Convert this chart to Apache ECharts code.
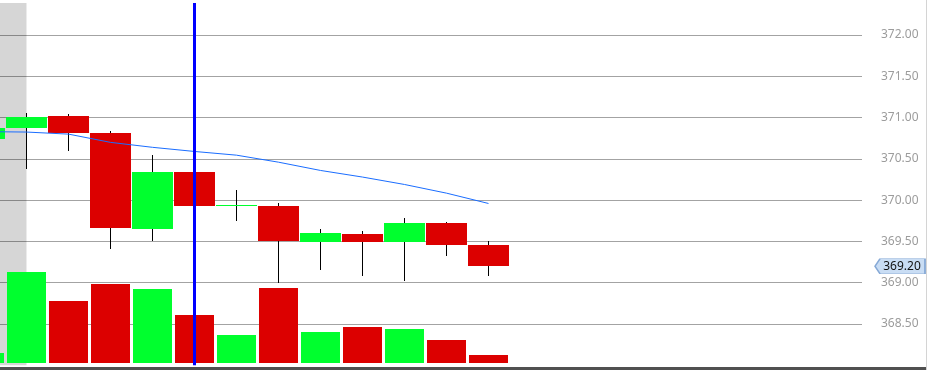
<!DOCTYPE html>
<html>
<head>
<meta charset="utf-8">
<script src="https://cdn.jsdelivr.net/npm/echarts@6/dist/echarts.min.js"></script>
<style>
html,body{margin:0;padding:0;background:#fff;}
#c{width:930px;height:370px;}
</style>
</head>
<body>
<div id="c"></div>
<script>
// ---- data (bar index 0 is the partially visible bar at the left edge) ----
const opens   = [370.74, 370.87, 371.02, 370.81, 369.65, 370.34, 369.94, 369.93, 369.495, 369.59, 369.49, 369.72, 369.455];
const closes  = [370.87, 371.005, 370.81, 369.66, 370.34, 369.93, 369.945, 369.50, 369.60, 369.49, 369.72, 369.455, 369.20];
const lows    = [370.70, 370.375, 370.59, 369.41, 369.50, 369.93, 369.75, 368.995, 369.15, 369.08, 369.02, 369.325, 369.08];
const highs   = [370.90, 371.05, 371.04, 370.835, 370.545, 370.34, 370.12, 369.965, 369.65, 369.625, 369.78, 369.73, 369.50];
const volumes = [1000, 9100, 6200, 7900, 7400, 4800, 2800, 7500, 3100, 3600, 3400, 2300, 800];
const movingAvg = [370.83, 370.825, 370.80, 370.70, 370.64, 370.59, 370.545, 370.46, 370.36, 370.28, 370.19, 370.085, 369.96];
const lastPrice = 369.20;
const markerBar = 5;      // bar with the blue vertical marker
const shadedUntil = 1;    // grey session shading ends at this bar
const priceMin = 368.0, priceMax = 372.388, priceStep = 0.5;
const volumeMax = 10000;
const xMin = 0.369, xMax = 20.893;

// ---- styles ----
const GREEN = '#00ff2e', RED = '#dc0000';

const candleData = opens.map((o, k) => [k, o, closes[k], lows[k], highs[k]]);
const volData = volumes.map((v, k) => ({
  value: [k, v],
  itemStyle: { color: closes[k] >= opens[k] ? GREEN : RED }
}));
const maData = movingAvg.map((v, k) => [k, v]);

const chart = echarts.init(document.getElementById('c'), null, { renderer: 'canvas' });

chart.setOption({
  animation: false,
  backgroundColor: '#ffffff',
  grid: [
    { left: 0, width: 862, top: 3, height: 362.3, outerBoundsMode: 'none', containLabel: false },
    { left: 0, width: 862, top: 263, height: 100, outerBoundsMode: 'none', containLabel: false }
  ],
  xAxis: [
    { type: 'value', gridIndex: 0, min: xMin, max: xMax, show: false, splitLine: { show: false } },
    { type: 'value', gridIndex: 1, min: xMin, max: xMax, show: false, splitLine: { show: false } }
  ],
  yAxis: [
    {
      type: 'value', gridIndex: 0, position: 'right',
      min: priceMin, max: priceMax, interval: priceStep,
      axisLine: { show: false }, axisTick: { show: false },
      splitLine: { show: true, showMinLine: false, showMaxLine: false, lineStyle: { color: '#a3a3a3', width: 1 } },
      axisLabel: {
        show: true, margin: 19, color: '#9c9c9c', fontSize: 12,
        fontFamily: '"Noto Sans", "Open Sans", sans-serif',
        showMinLabel: false, showMaxLabel: false,
        formatter: v => v.toFixed(2)
      }
    },
    { type: 'value', gridIndex: 1, min: 0, max: volumeMax, show: false, splitLine: { show: false } }
  ],
  series: [
    {
      type: 'bar', name: 'volume', xAxisIndex: 1, yAxisIndex: 1,
      barWidth: 39, data: volData, z: 2
    },
    {
      type: 'custom', name: 'price', xAxisIndex: 0, yAxisIndex: 0, z: 3,
      encode: { x: 0, y: [1, 2, 3, 4] },
      data: candleData,
      renderItem: function (params, api) {
        const k = api.value(0);
        const o = api.value(1), c = api.value(2), l = api.value(3), h = api.value(4);
        const pO = api.coord([k, o]), pC = api.coord([k, c]);
        const pL = api.coord([k, l]), pH = api.coord([k, h]);
        const band = api.size([1, 0])[0];
        const bodyW = band - 1;
        const cx = Math.round(pO[0] - 0.5) + 0.5;
        let top = Math.round(Math.min(pO[1], pC[1]));
        let bot = Math.round(Math.max(pO[1], pC[1]));
        if (bot - top < 1) bot = top + 1;
        const up = c >= o;
        return {
          type: 'group',
          children: [
            { type: 'line', shape: { x1: cx, y1: Math.round(pH[1]), x2: cx, y2: Math.round(pL[1]) },
              style: { stroke: '#000000', lineWidth: 1 } },
            { type: 'rect', shape: { x: cx - bodyW / 2, y: top, width: bodyW, height: bot - top },
              style: { fill: up ? GREEN : RED } }
          ]
        };
      }
    },
    {
      type: 'line', name: 'ma', xAxisIndex: 0, yAxisIndex: 0, z: 4,
      data: maData, showSymbol: false, symbol: 'none', smooth: false,
      lineStyle: { color: '#1a6dff', width: 1 },
      markArea: {
        silent: true,
        itemStyle: { color: 'rgba(0,0,0,0.16)' },
        data: [[{ xAxis: xMin }, { xAxis: shadedUntil }]]
      },
      markLine: {
        silent: true, symbol: ['none', 'none'], label: { show: false },
        lineStyle: { color: '#0000ff', width: 3, type: 'solid' },
        data: [{ xAxis: markerBar }]
      },
      markPoint: {
        silent: true,
        symbol: 'path://M0,7 L5,0 L50,0 L50,14 L5,14 Z',
        symbolSize: [50, 15],
        symbolKeepAspect: false,
        symbolOffset: [38, 0],
        itemStyle: { color: '#c9ddf4', borderColor: '#86a9d6', borderWidth: 1 },
        label: {
          show: true, position: 'inside', offset: [2, 0],
          color: '#111', fontSize: 12, fontFamily: '"Noto Sans", "Open Sans", sans-serif',
          formatter: () => lastPrice.toFixed(2)
        },
        data: [{ coord: [xMax, lastPrice] }]
      }
    }
  ],
  graphic: [
    { type: 'rect', left: 0, top: 367, shape: { width: 926, height: 3 }, style: { fill: '#505050' }, silent: true },
    { type: 'line', shape: { x1: 926.5, y1: 0, x2: 926.5, y2: 370 }, style: { stroke: '#d4d4d4', lineWidth: 1 }, silent: true }
  ]
});
</script>
</body>
</html>
